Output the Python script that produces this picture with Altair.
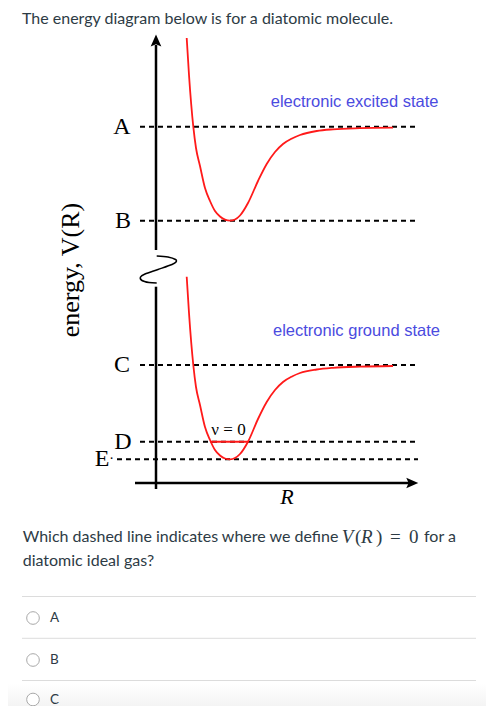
import altair as alt
import pandas as pd

# Diagram coordinate system: one unit = one pixel of the 494x714 screenshot
X_DOMAIN = [8, 486]
Y_DOMAIN = [8, 706]

# ---- potential energy curves (R position, energy position) ----
excited_R = [186.7, 189, 193.3, 196, 200, 205, 210, 215, 220, 225, 230, 235, 240, 248, 258, 266.7, 275, 283, 292, 300, 316.7, 333, 360, 393]
excited_E = [38, 75, 126.7, 148, 166, 188, 201, 211, 216.5, 219.7, 220.7, 219.5, 215.5, 203, 181, 164, 152, 144, 138.5, 135, 131, 129.3, 128.2, 127.7]
ground_R = [186.7, 189, 193.3, 196, 200, 205, 210, 215, 220, 225, 230, 235, 240, 248, 258, 266.7, 275, 283, 292, 300, 316.7, 333, 360, 393]
ground_E = [276.7, 313, 365, 387, 405, 427, 440, 450, 455.5, 458.5, 459.3, 458, 454, 441.7, 419, 402, 390, 382, 376.5, 373, 369.5, 367.8, 366.6, 366]

# ---- dashed energy levels ----
level_names = ["A", "B", "C", "D", "E"]
level_E = [126.7, 220.7, 365, 441.7, 459.3]
level_start = [140, 140, 140, 140, 117]
level_end = [418, 418, 418, 418, 418]
label_x = [122, 123, 122, 123, 102]

# ---- axis break (wavy line) ----
wave_R = [156.7, 168, 175.5, 176, 172, 158, 145, 140.5, 142, 149, 156.7]
wave_E = [256, 257, 259.5, 262, 264.5, 269.5, 274, 277, 280.5, 282.5, 283]

# ---- axes ----
axis_x = [156, 156, 135]
axis_y = [45, 286.7, 483]
axis_x2 = [156, 156, 410]
axis_y2 = [250, 489, 483]

# ---- quiz choices ----
choices = ["A", "B", "C"]
choice_y = [617.5, 659.5, 699.5]
radio_y = [618, 660, 699.5]
separator_y = [596.5, 638.3, 680.5]

xs = alt.Scale(domain=X_DOMAIN, nice=False, zero=False)
ys = alt.Scale(domain=Y_DOMAIN, nice=False, zero=False, reverse=True)


def X(f="x"):
    return alt.X(f"{f}:Q", scale=xs, axis=None)


def Y(f="y"):
    return alt.Y(f"{f}:Q", scale=ys, axis=None)


# background gradient at the bottom of the page
grad_df = pd.DataFrame({"x": [X_DOMAIN[0]], "x2": [X_DOMAIN[1]], "y": [684], "y2": [706]})
grad = alt.Chart(grad_df).mark_rect(
    color=alt.LinearGradient(
        gradient="linear",
        stops=[alt.GradientStop(color="#ffffff", offset=0), alt.GradientStop(color="#f4f4f4", offset=1)],
        x1=0, x2=0, y1=0, y2=1,
    )
).encode(x=X(), x2="x2:Q", y=Y(), y2="y2:Q")

# separators
sep_df = pd.DataFrame({"x": [22] * 3, "x2": [476] * 3, "y": separator_y})
seps = alt.Chart(sep_df).mark_rule(color="#dcdcdc", strokeWidth=1).encode(x=X(), x2="x2:Q", y=Y())

# dashed levels
lev_df = pd.DataFrame({"x": level_start, "x2": level_end, "y": level_E})
levels = alt.Chart(lev_df).mark_rule(color="black", strokeWidth=2, strokeDash=[5, 4]).encode(
    x=X(), x2="x2:Q", y=Y()
)

# axis lines
ax_df = pd.DataFrame({"x": axis_x, "y": axis_y, "x2": axis_x2, "y2": axis_y2})
axes = alt.Chart(ax_df).mark_rule(color="black", strokeWidth=2.5).encode(
    x=X(), y=Y(), x2="x2:Q", y2="y2:Q"
)

# arrow heads
up_df = pd.DataFrame({"x": [156], "y": [41.2]})
up_arrow = alt.Chart(up_df).mark_point(
    shape="M0,-1L0.8,0.8L0,0.45L-0.8,0.8Z", filled=True, color="black", opacity=1, size=178
).encode(x=X(), y=Y())
right_df = pd.DataFrame({"x": [411.6], "y": [483]})
right_arrow = alt.Chart(right_df).mark_point(
    shape="M1,0L-0.8,0.8L-0.45,0L-0.8,-0.8Z", filled=True, color="black", opacity=1, size=178
).encode(x=X(), y=Y())

# wavy axis break
wave_df = pd.DataFrame({"x": wave_R, "y": wave_E, "i": list(range(len(wave_R)))})
wave = alt.Chart(wave_df).mark_line(color="black", strokeWidth=1.5, interpolate="cardinal").encode(
    x=X(), y=Y(), order="i:Q"
)

# potential curves
curve_df = pd.concat([
    pd.DataFrame({"x": excited_R, "y": excited_E, "state": "excited"}),
    pd.DataFrame({"x": ground_R, "y": ground_E, "state": "ground"}),
])
curves = alt.Chart(curve_df).mark_line(color="#ff1a1a", strokeWidth=1.8, interpolate="monotone").encode(
    x=X(), y=Y(), detail="state:N"
)

# v = 0 level
v0_df = pd.DataFrame({"x": [210], "x2": [248.3], "y": [441.7]})
v0 = alt.Chart(v0_df).mark_rule(color="#ff1a1a", strokeWidth=2).encode(x=X(), x2="x2:Q", y=Y())

# level letters
lab_df = pd.DataFrame({"x": label_x, "y": level_E, "t": level_names})
labels = alt.Chart(lab_df).mark_text(font="Liberation Serif", fontSize=24, color="black",
                                     align="center", baseline="middle").encode(x=X(), y=Y(), text="t:N")
dot_df = pd.DataFrame({"x": [111.5], "y": [459.3], "t": ["·"]})
dot = alt.Chart(dot_df).mark_text(font="Liberation Serif", fontSize=14, color="black",
                                  align="center", baseline="middle").encode(x=X(), y=Y(), text="t:N")

# y axis title
ylab_df = pd.DataFrame({"x": [71], "y": [270], "t": ["energy, V(R)"]})
ylab = alt.Chart(ylab_df).mark_text(font="Liberation Serif", fontSize=26, color="black", angle=270,
                                    align="center", baseline="middle").encode(x=X(), y=Y(), text="t:N")

# x axis title
xlab_df = pd.DataFrame({"x": [287], "y": [497], "t": ["R"]})
xlab = alt.Chart(xlab_df).mark_text(font="Liberation Serif", fontStyle="italic", fontSize=22, color="black",
                                    align="center", baseline="middle").encode(x=X(), y=Y(), text="t:N")

nu_df = pd.DataFrame({"x": [228.5], "y": [429.5], "t": ["ν  = 0"]})
nu = alt.Chart(nu_df).mark_text(font="Liberation Serif", fontSize=17, color="black",
                                align="center", baseline="middle").encode(x=X(), y=Y(), text="t:N")

state_df = pd.DataFrame({"x": [270.7, 273], "y": [101.7, 331], "t": ["electronic excited state", "electronic ground state"]})
states = alt.Chart(state_df).mark_text(font="Liberation Sans", fontSize=16.5, color="#4b4be0",
                                       align="left", baseline="middle").encode(x=X(), y=Y(), text="t:N")

# page texts
page_df = pd.DataFrame({
    "x": [22, 22.7, 424, 22.7],
    "y": [18.5, 536.5, 536.5, 561],
    "t": ["The energy diagram below is for a diatomic molecule.",
          "Which dashed line indicates where we define",
          "for a",
          "diatomic ideal gas?"],
})
page_text = alt.Chart(page_df).mark_text(font="Lato", fontSize=16, color="#2d3b45",
                                         align="left", baseline="middle").encode(x=X(), y=Y(), text="t:N")

math_it_df = pd.DataFrame({"x": [341.7, 361], "y": [536.5, 536.5], "t": ["V", "R"]})
math_it = alt.Chart(math_it_df).mark_text(font="Liberation Serif", fontStyle="italic", fontSize=19, color="#2d3b45",
                                          align="left", baseline="middle").encode(x=X(), y=Y(), text="t:N")
math_up_df = pd.DataFrame({"x": [355, 376, 390, 409], "y": [536.5] * 4, "t": ["(", ")", "=", "0"]})
math_up = alt.Chart(math_up_df).mark_text(font="Liberation Serif", fontSize=19, color="#2d3b45",
                                          align="left", baseline="middle").encode(x=X(), y=Y(), text="t:N")

radio_df = pd.DataFrame({"x": [33] * 3, "y": radio_y})
radios = alt.Chart(radio_df).mark_point(shape="circle", size=160, filled=False, fill="white", color="#a9a9a9",
                                        strokeWidth=1, opacity=1).encode(x=X(), y=Y())

choice_df = pd.DataFrame({"x": [50] * 3, "y": choice_y, "t": choices})
choice_text = alt.Chart(choice_df).mark_text(font="Lato", fontSize=13.5, color="#2d3b45",
                                             align="left", baseline="middle").encode(x=X(), y=Y(), text="t:N")

chart = alt.layer(
    grad, seps, levels, axes, up_arrow, right_arrow, wave, curves, v0,
    labels, dot, ylab, xlab, nu, states, page_text, math_it, math_up, radios, choice_text,
).properties(
    width=478, height=698, padding=0, autosize=alt.AutoSizeParams(type="none"), background="white"
).configure_view(stroke=None)

chart.save("out.html", embed_options={"renderer": "svg", "actions": False})
